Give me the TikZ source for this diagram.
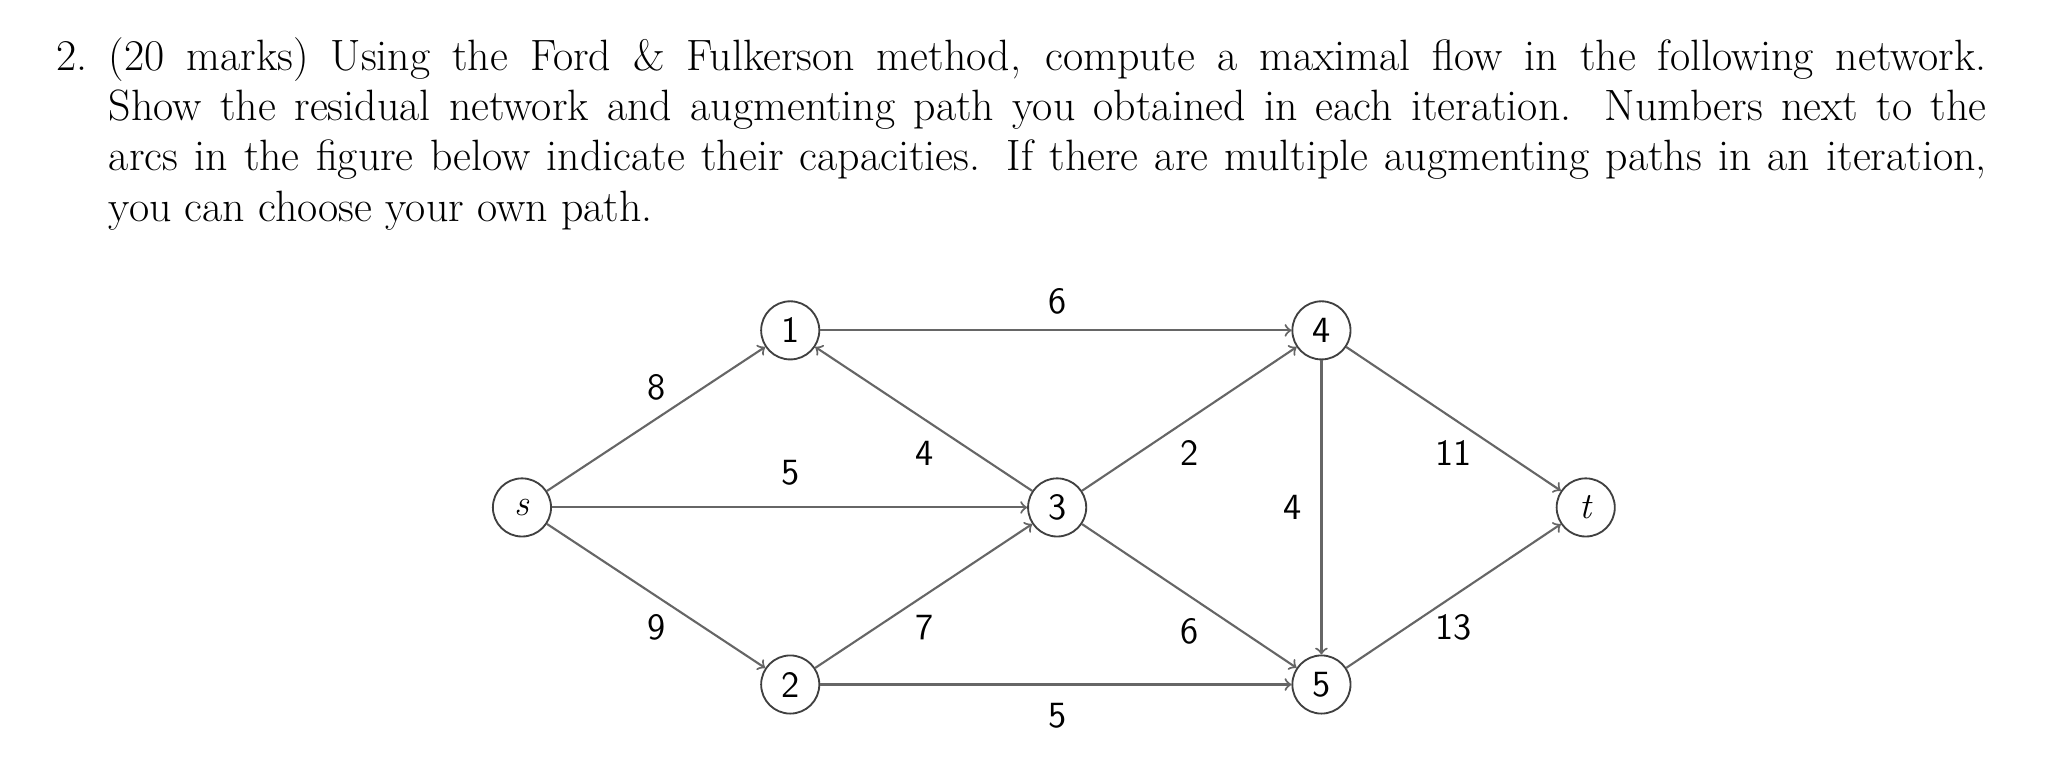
\documentclass[tikz,border=0pt]{standalone}
\usepackage{fontspec}
\begin{document}
\begin{tikzpicture}[x=0.5pt,y=-0.5pt,
  vtx/.style={circle,draw=black!75,line width=0.7pt,minimum size=22pt,inner sep=0pt,font=\sffamily\fontsize{14}{14}\selectfont},
  arc/.style={draw=black!60,line width=0.8pt,-to},
  lab/.style={font=\sffamily\fontsize{14}{14}\selectfont}]
\useasboundingbox (0,0) rectangle (1568,590);
\node[anchor=north west,inner sep=0pt,align=left] (txt) at (42,28) {\fontsize{16.6}{19}\selectfont
\parbox[t]{20pt}{2.}\parbox[t]{710.5pt}{(20 marks) Using the Ford \& Fulkerson method, compute a maximal flow in the following network.\linebreak Show the residual network and augmenting path you obtained in each iteration. Numbers next to the\linebreak arcs in the figure below indicate their capacities. If there are multiple augmenting paths in an iteration,\linebreak you can choose your own path.}};
\node[vtx] (s) at (395,384) {\rmfamily\itshape s};
\node[vtx] (n1) at (598,250) {1};
\node[vtx] (n4) at (1000,250) {4};
\node[vtx] (n3) at (800,384) {3};
\node[vtx] (n2) at (598,518) {2};
\node[vtx] (n5) at (1000,518) {5};
\node[vtx] (t) at (1200,384) {\rmfamily\itshape t};
\draw[arc] (s) -- (n1);
\draw[arc] (s) -- (n3);
\draw[arc] (s) -- (n2);
\draw[arc] (n1) -- (n4);
\draw[arc] (n3) -- (n1);
\draw[arc] (n2) -- (n3);
\draw[arc] (n2) -- (n5);
\draw[arc] (n3) -- (n4);
\draw[arc] (n3) -- (n5);
\draw[arc] (n4) -- (n5);
\draw[arc] (n4) -- (t);
\draw[arc] (n5) -- (t);
\node[lab] (l1) at (497,293) {8};
\node[lab] (l2) at (598,358) {5};
\node[lab] (l3) at (700,343) {4};
\node[lab] (l4) at (800,228) {6};
\node[lab] (l5) at (900,343) {2};
\node[lab] (l6) at (978,384) {4};
\node[lab] (l7) at (1100,343) {11};
\node[lab] (l8) at (497,475) {9};
\node[lab] (l9) at (700,475) {7};
\node[lab] (l10) at (900,478) {6};
\node[lab] (l11) at (800,542) {5};
\node[lab] (l12) at (1100,475) {13};
\end{tikzpicture}
\end{document}
